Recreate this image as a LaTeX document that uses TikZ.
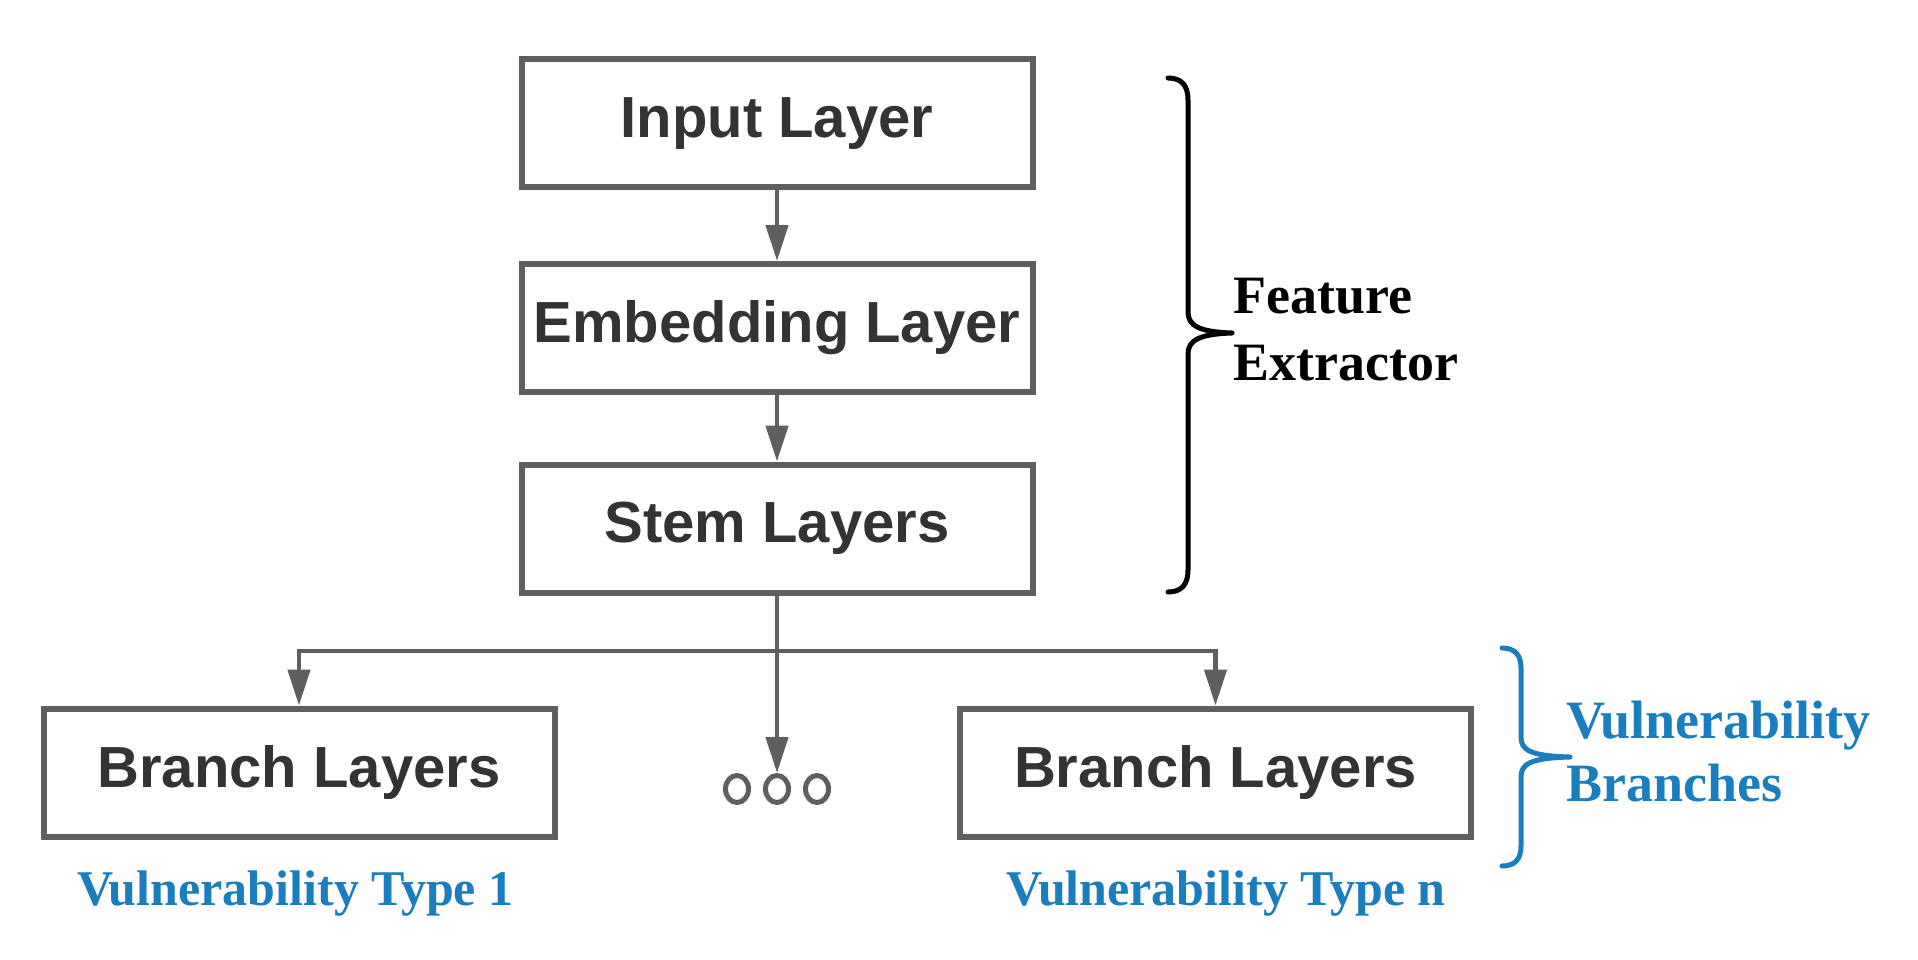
\documentclass[tikz,border=0pt]{standalone}
\usepackage{fontspec}
\setmainfont{Liberation Serif}
\newfontfamily\arialfont{Liberation Sans}
\usetikzlibrary{arrows.meta,shapes.geometric}
\definecolor{boxgray}{HTML}{5F5F5F}
\definecolor{txtgray}{HTML}{333333}
\definecolor{vblue}{HTML}{1A7DBD}
\tikzset{
  layerbox/.style={draw=boxgray, line width=6pt, minimum width=511pt, minimum height=128pt,
    inner sep=0pt, text=txtgray, font=\arialfont\bfseries\fontsize{58}{70}\selectfont},
  conn/.style={draw=boxgray, line width=4.5pt, -{Triangle[length=36pt,width=22pt]}},
  dotnode/.style={ellipse, draw=boxgray, line width=5pt, minimum width=23pt, minimum height=27pt, inner sep=0pt},
  sidelabel/.style={anchor=base west, inner sep=0pt, font=\bfseries\fontsize{54}{66}\selectfont},
  typelabel/.style={anchor=base, inner sep=0pt, text=vblue, font=\bfseries\fontsize{50}{60}\selectfont},
  bracepath/.style={line width=5pt, line cap=round, line join=round}
}
\begin{document}
\begin{tikzpicture}[x=1pt,y=-1pt]
\useasboundingbox (0,0) rectangle (1918,960);
\fill[white] (0,0) rectangle (1918,960);

\node[layerbox] (inp) at (777,123.5) {Input Layer};
\node[layerbox] (emb) at (777,328) {Embedding Layer};
\node[layerbox] (stem) at (777,528.5) {Stem Layers};
\node[layerbox] (bl) at (299,772.5) {Branch Layers};
\node[layerbox] (br) at (1215.5,772.5) {Branch Layers};

\node[dotnode] (d1) at (737,789) {};
\node[dotnode] (d2) at (777,789) {};
\node[dotnode] (d3) at (817,789) {};

\coordinate (j) at (777,651);

\draw[conn] (inp.south) -- (emb.north);
\draw[conn] (emb.south) -- (stem.north);
\draw[conn] (stem.south) -- (d2.north);
\draw[conn] (j) -| (bl.north);
\draw[conn] (j) -| (br.north);

% Feature extractor brace
\draw[bracepath, black] (1168,78) .. controls (1182,78) and (1188,86) .. (1188,100)
  -- (1188,312) .. controls (1188,326) and (1200,332) .. (1232,333)
  .. controls (1200,334) and (1188,340) .. (1188,354)
  -- (1188,570) .. controls (1188,584) and (1182,592) .. (1168,592);
\node[sidelabel, text=black] (fe1) at (1233,313) {Feature};
\node[sidelabel, text=black] (fe2) at (1233,380) {Extractor};

% Vulnerability branches brace
\draw[bracepath, vblue] (1502,648) .. controls (1515,648) and (1521,655) .. (1521,668)
  -- (1521,737) .. controls (1521,750) and (1530,756) .. (1570,757)
  .. controls (1530,758) and (1521,764) .. (1521,777)
  -- (1521,846) .. controls (1521,859) and (1515,866) .. (1502,866);
\node[sidelabel, text=vblue] (vb1) at (1566,738) {Vulnerability};
\node[sidelabel, text=vblue] (vb2) at (1566,801) {Branches};

\node[typelabel] (t1) at (295.5,905) {Vulnerability Type 1};
\node[typelabel] (tn) at (1226,905) {Vulnerability Type n};
\end{tikzpicture}
\end{document}
